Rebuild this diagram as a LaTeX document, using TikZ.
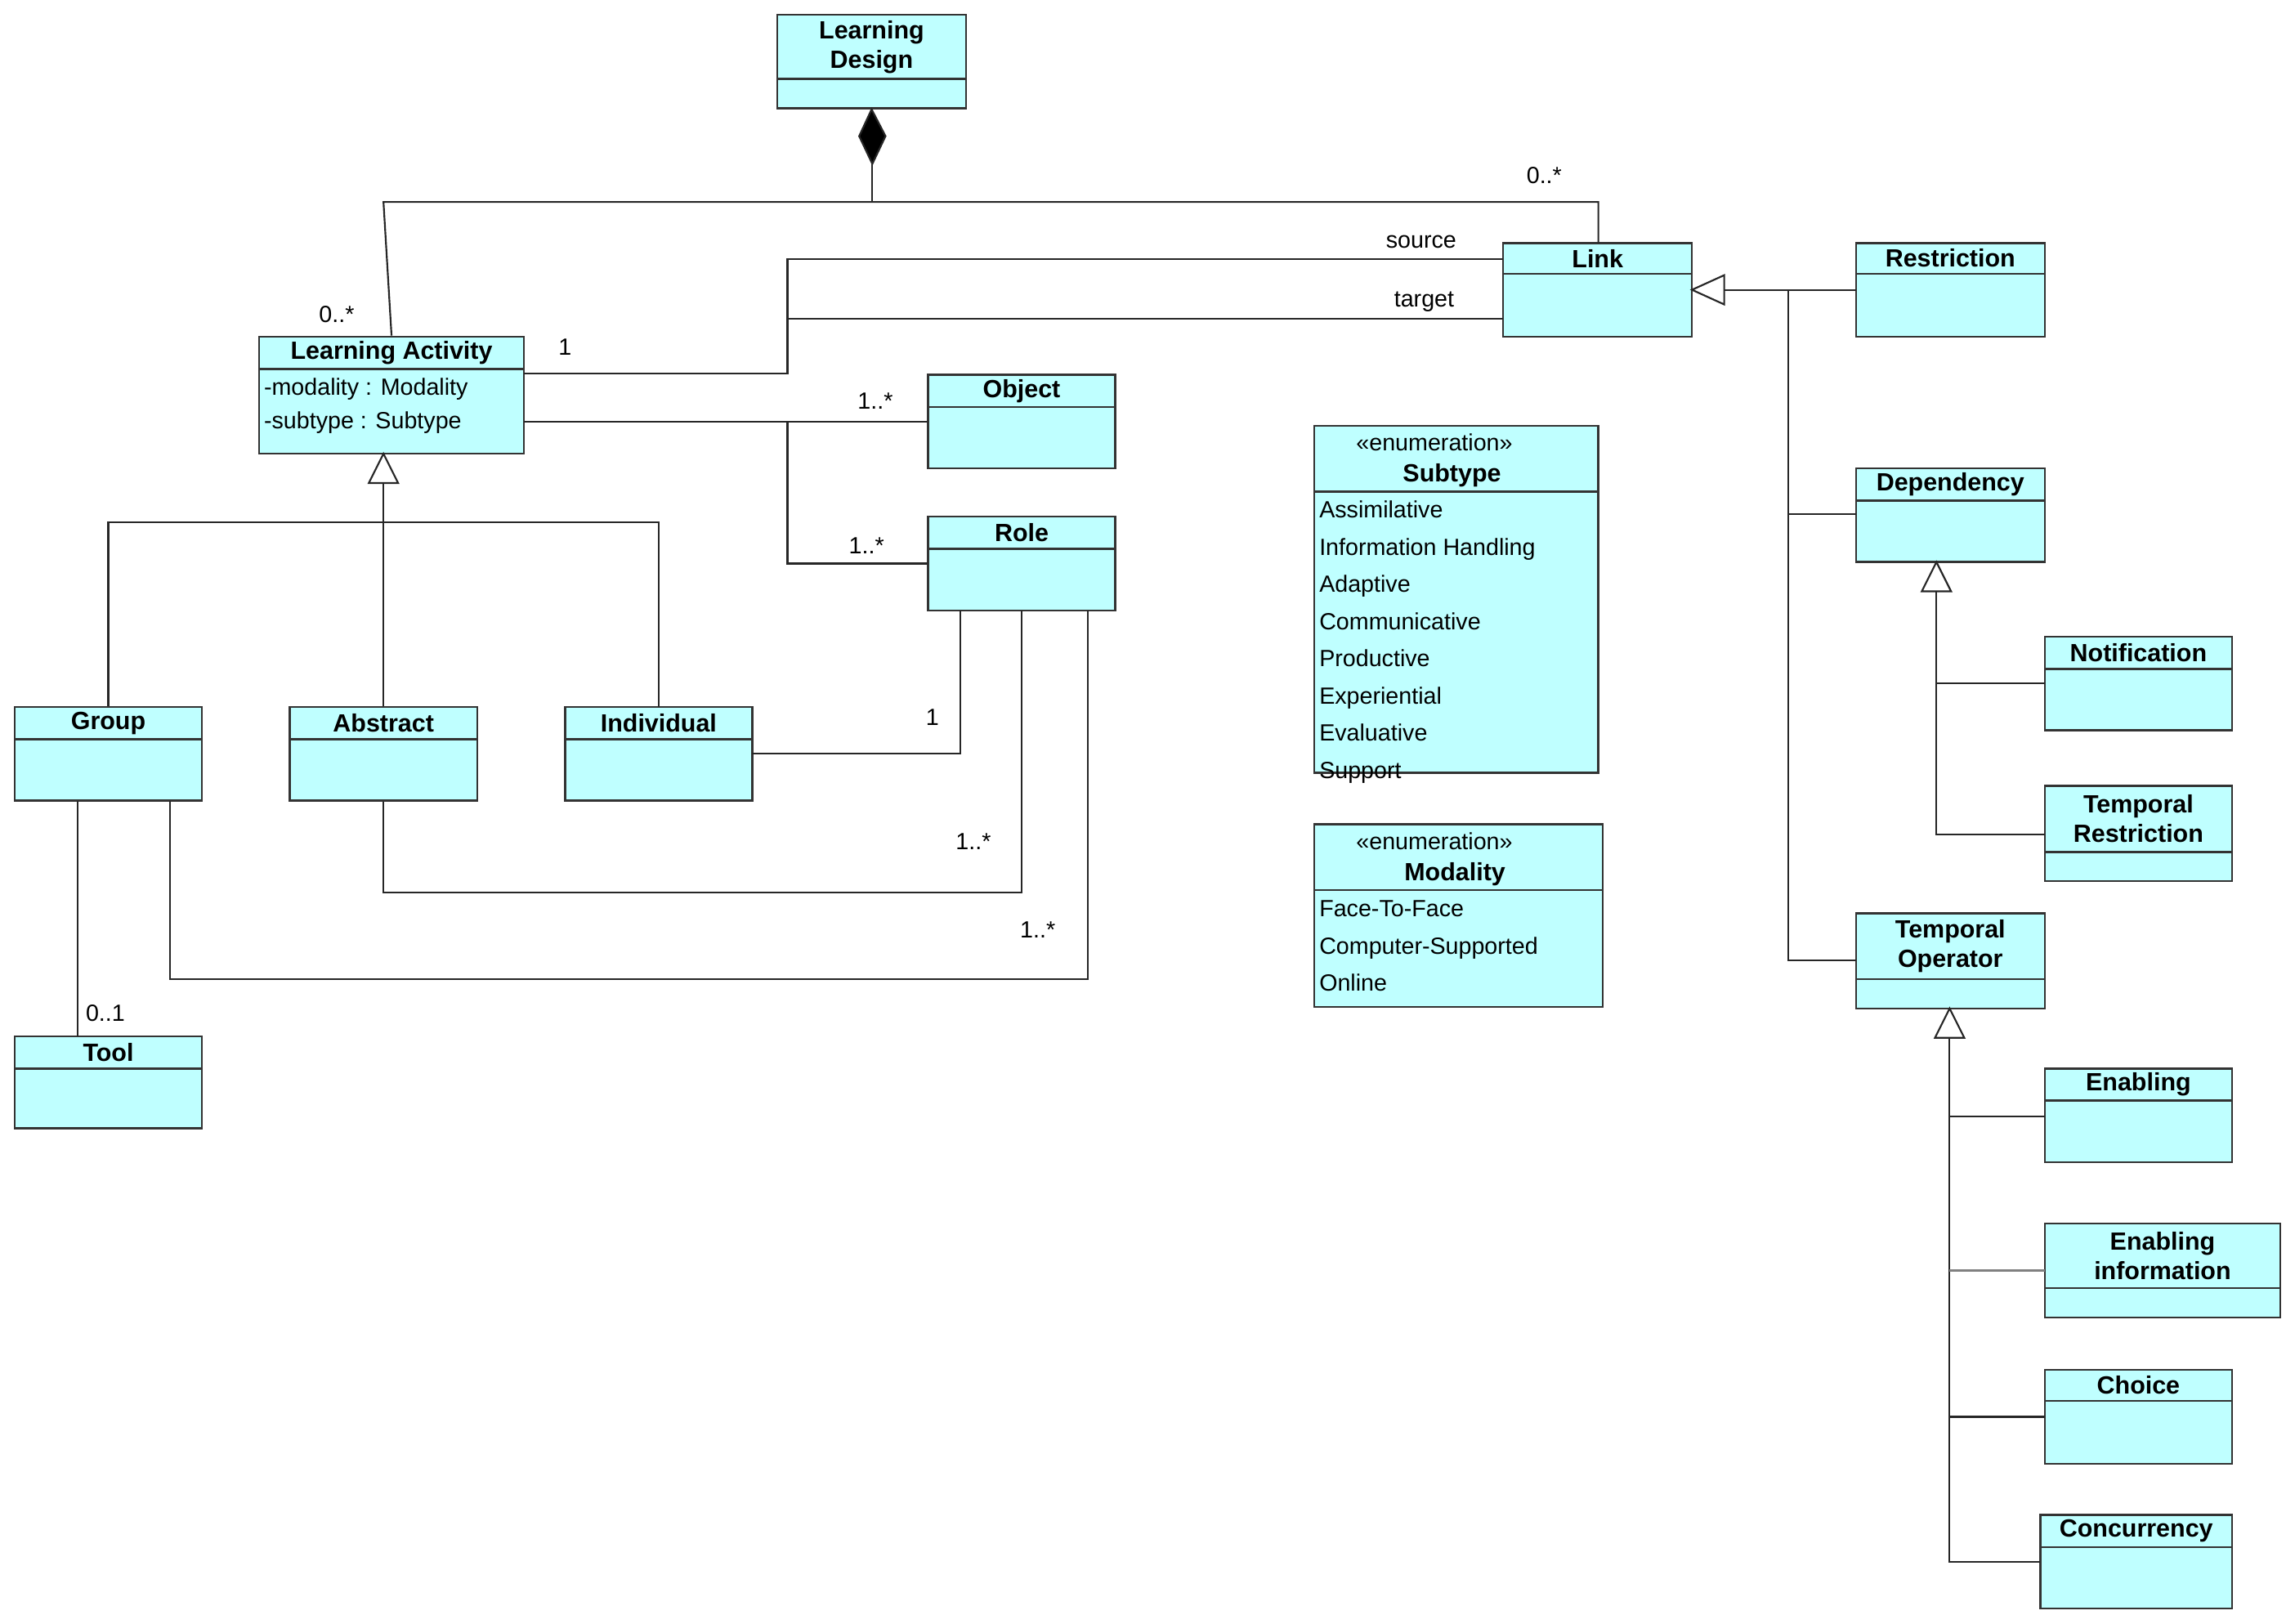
\documentclass[tikz,border=0pt]{standalone}
\usepackage{fontspec}
\setmainfont{Liberation Sans}
\usetikzlibrary{fit}
\definecolor{boxfill}{HTML}{BFFFFF}
\tikzset{
 box/.style={draw=black!80,fill=boxfill,line width=0.7pt,inner sep=0pt},
 ttl/.style={font=\fontsize{8.5}{10}\selectfont\bfseries,align=center,inner sep=0pt},
 lbl/.style={font=\fontsize{8}{9.5}\selectfont,inner sep=0pt},
 ln/.style={draw=black!85,line width=0.6pt},
 gen/.style={draw=black!85,fill=white,line width=0.6pt}
}
\newcommand\ubox[7]{%
 \node[box,fit={(#2,#3)(#4,#5)}] (#1) {};
 \draw[black!80,line width=0.7pt] (#2,#6) -- (#4,#6);
 \node[ttl] (#1-t) at ({(#2+#4)/2},{(#3+#6)/2}) {#7};}
\begin{document}
\begin{tikzpicture}[x=0.5pt,y=-0.5pt]
\useasboundingbox[fill=white] (0,0) rectangle (1568,1109);
% boxes
\ubox{ld}{531}{10}{660}{74}{54}{Learning\\Design}
\ubox{la}{177}{230}{358}{310}{252}{Learning Activity}
\node[lbl,anchor=north west,align=left] (laattr) at (180,258) {-modality : Modality\\[2pt]-subtype : Subtype};
\ubox{link}{1027}{166}{1156}{230}{187}{Link}
\ubox{res}{1268}{166}{1397}{230}{187}{Restriction}
\ubox{obj}{634}{256}{762}{320}{278}{Object}
\ubox{role}{634}{353}{762}{417}{375}{Role}
\node[box,fit={(898,291)(1092,528)}] (st) {};
\draw[black!80,line width=0.7pt] (898,336) -- (1092,336);
\node[lbl] (st-s) at (980,302) {<<enumeration>>};
\node[ttl] (st-t) at (992,325) {Subtype};
\node[lbl,anchor=north west,align=left] (st-l) at (901,342) {Assimilative\\[3.2pt]Information Handling\\[3.2pt]Adaptive\\[3.2pt]Communicative\\[3.2pt]Productive\\[3.2pt]Experiential\\[3.2pt]Evaluative\\[3.2pt]Support};
\node[box,fit={(898,563)(1095,688)}] (md) {};
\draw[black!80,line width=0.7pt] (898,608) -- (1095,608);
\node[lbl] (md-s) at (980,575) {<<enumeration>>};
\node[ttl] (md-t) at (994,597) {Modality};
\node[lbl,anchor=north west,align=left] (md-l) at (901,615) {Face-To-Face\\[3.2pt]Computer-Supported\\[3.2pt]Online};
\ubox{dep}{1268}{320}{1397}{384}{342}{Dependency}
\ubox{noti}{1397}{435}{1525}{499}{457}{Notification}
\ubox{tr}{1397}{537}{1525}{602}{582}{Temporal\\Restriction}
\ubox{to}{1268}{624}{1397}{689}{669}{Temporal\\Operator}
\ubox{en}{1397}{730}{1525}{794}{752}{Enabling}
\ubox{eni}{1397}{836}{1558}{900}{880}{Enabling\\information}
\ubox{ch}{1397}{936}{1525}{1000}{957}{Choice}
\ubox{cc}{1394}{1035}{1525}{1099}{1057}{Concurrency}
\ubox{grp}{10}{483}{138}{547}{505}{Group}
\ubox{abs}{198}{483}{326}{547}{505}{Abstract}
\ubox{ind}{386}{483}{514}{547}{505}{Individual}
\ubox{tool}{10}{708}{138}{771}{730}{Tool}
% composition
\draw[ln] (596,112) -- (596,138);
\draw[ln,fill=black] (ld.south) -- (605,93) -- (596,112) -- (587,93) -- cycle;
\draw[ln] (la.north) -- (262,138) -- (1092,138) -- (1092,166);
\node[lbl] at (1055,120) {0..*};
\node[lbl] at (230,215) {0..*};
% source/target
\draw[ln] (358,255) -- (538,255) -- (538,177) -- (1027,177);
\draw[ln] (538,218) -- (1027,218);
\node[lbl] at (971,165) {source};
\node[lbl] at (973,206) {target};
\node[lbl] at (386,237) {1};
% object / role
\draw[ln] (358,288) -- (634,288);
\draw[ln] (538,288) -- (538,385) -- (634,385);
\node[lbl] at (598,274) {1..*};
\node[lbl] at (592,373) {1..*};
% LA inheritance
\draw[ln] (262,330) -- (abs.north);
\draw[ln] (grp.north -| 74,0) -- (74,357) -- (450,357) -- (450,483);
\draw[gen] (262,310) -- (272,330) -- (252,330) -- cycle;
% role links
\draw[ln] (514,515) -- (656,515) -- (656,417);
\node[lbl] at (637,490) {1};
\draw[ln] (abs.south) -- (262,610) -- (698,610) -- (698,417);
\node[lbl] at (665,575) {1..*};
\draw[ln] (116,547) -- (116,669) -- (743,669) -- (743,417);
\node[lbl] at (709,635) {1..*};
\draw[ln] (53,547) -- (53,708);
\node[lbl] at (72,692) {0..1};
% Link inheritance
\draw[ln] (1178,198) -- (1268,198);
\draw[ln] (1222,198) -- (1222,656) -- (1268,656);
\draw[ln] (1222,351) -- (1268,351);
\draw[gen] (1156,198) -- (1178,188) -- (1178,208) -- cycle;
% Dependency inheritance
\draw[ln] (1323,404) -- (1323,570) -- (1397,570);
\draw[ln] (1323,467) -- (1397,467);
\draw[gen] (1323,384) -- (1333,404) -- (1313,404) -- cycle;
% Temporal operator inheritance
\draw[ln] (1332,709) -- (1332,1067) -- (1394,1067);
\draw[ln] (1332,763) -- (1397,763);
\draw[ln,draw=black!50] (1332,868) -- (1397,868);
\draw[ln] (1332,968) -- (1397,968);
\draw[gen] (1332,689) -- (1342,709) -- (1322,709) -- cycle;
\end{tikzpicture}
\end{document}
